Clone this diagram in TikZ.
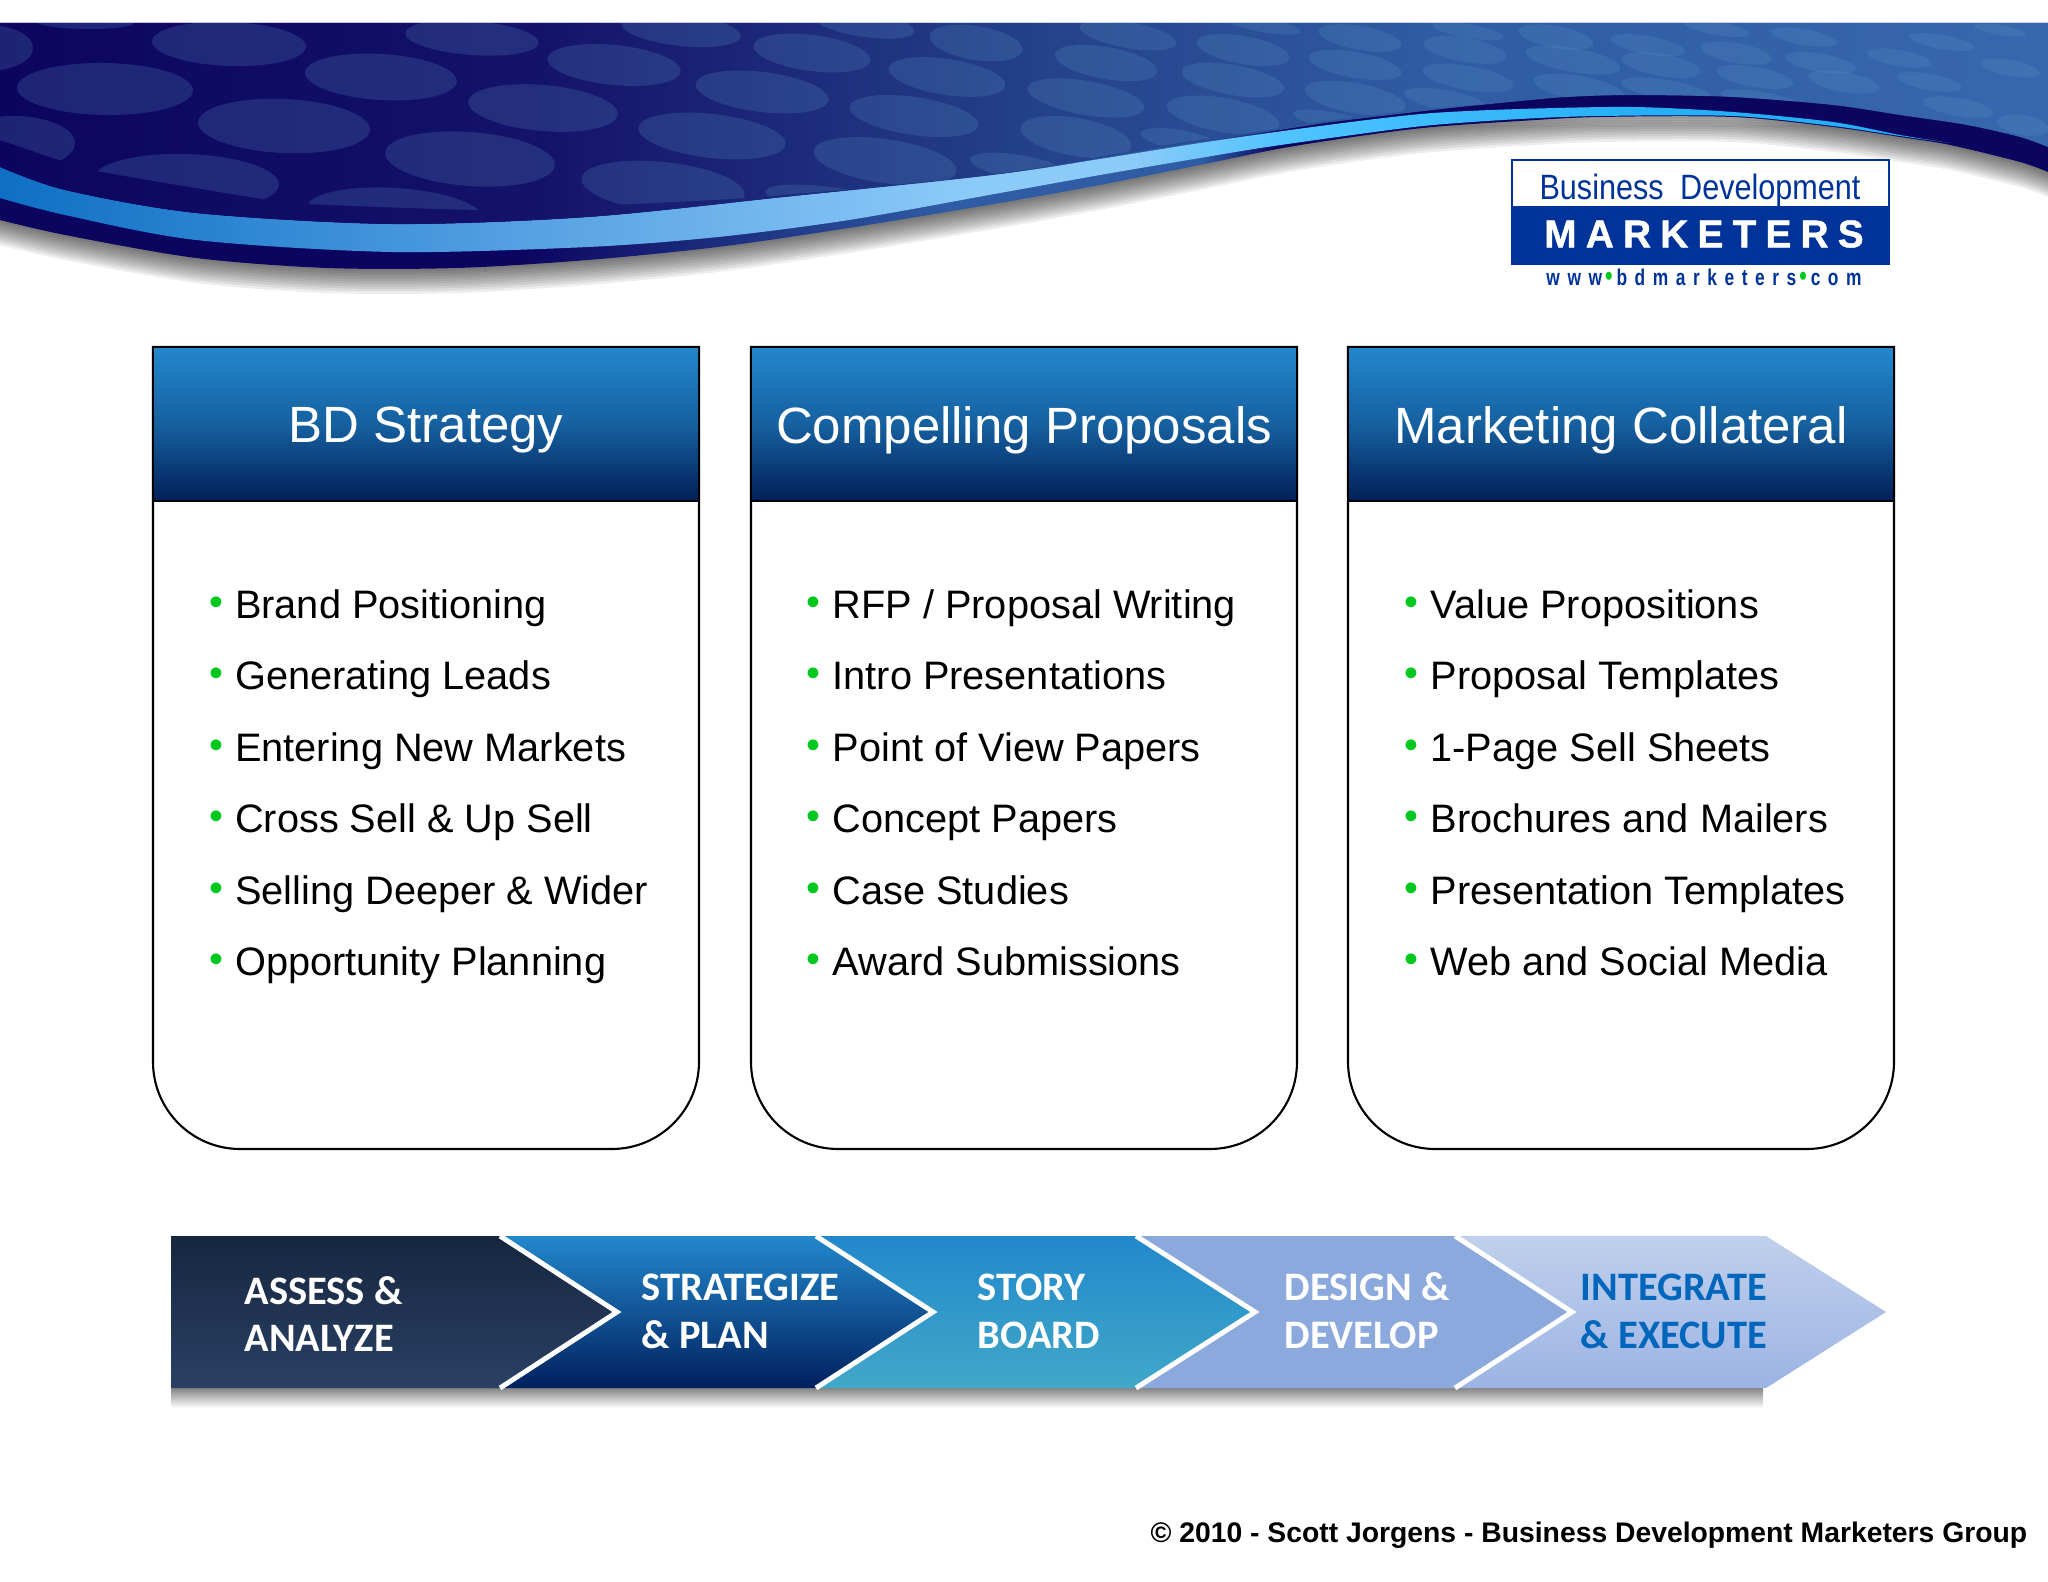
\documentclass[tikz,border=0pt]{standalone}
\usepackage{fontspec}
\setmainfont{Liberation Sans}
\newfontfamily\chevfont{Carlito}
\newfontfamily\logonarrow{Liberation Sans}[FakeStretch=0.87]
\newfontfamily\logowide{Liberation Sans}[LetterSpace=24,BoldFeatures={FakeBold=1.2}]
\newfontfamily\logoweb{Liberation Sans}[FakeStretch=0.76,LetterSpace=33]
\definecolor{navyA}{HTML}{0C0560}
\definecolor{navyB}{HTML}{14126A}
\definecolor{bodyC}{HTML}{24408A}
\definecolor{bodyD}{HTML}{2F5CA4}
\definecolor{bodyE}{HTML}{3767AE}
\definecolor{bandA}{HTML}{0E6FC4}
\definecolor{bandB}{HTML}{5BA5E5}
\definecolor{bandC}{HTML}{8CCBF8}
\definecolor{bandD}{HTML}{4FC3FF}
\definecolor{bandE}{HTML}{25B0F5}
\definecolor{dotblue}{HTML}{5C96C8}
\definecolor{logoblue}{HTML}{003399}
\definecolor{bulletgreen}{HTML}{00C81E}
\definecolor{headtop}{HTML}{2288CC}
\definecolor{headbot}{HTML}{021F58}
\definecolor{integratetext}{HTML}{0066BB}
\pgfdeclarehorizontalshading{topbody}{100bp}{color(0bp)=(navyA); color(25bp)=(navyA); color(38bp)=(navyB); color(50bp)=(bodyC); color(60bp)=(bodyD); color(75bp)=(bodyE); color(100bp)=(bodyE)}
\pgfdeclarehorizontalshading{lowbody}{100bp}{color(0bp)=(navyA); color(25bp)=(navyA); color(37.7bp)=(navyA); color(48.2bp)=(bodyD); color(54.3bp)=(bodyD); color(56.2bp)=(navyA); color(100bp)=(navyA)}
\pgfdeclarehorizontalshading{lightband}{100bp}{color(0bp)=(bandA); color(25bp)=(bandA); color(39.6bp)=(bandB); color(50bp)=(bandC); color(54bp)=(bandC); color(58bp)=(bandD); color(67bp)=(bandE); color(100bp)=(bandE)}
\def\edgebottom{-- plot[smooth] coordinates {(2048,172) (2020,162) (1950,145) (1900,137) (1833,127) (1733,117) (1600,117) (1520,121) (1433,127) (1367,135) (1283,148) (1200,165) (1100,185) (1000,203) (849,228) (718,247) (588,260) (457,268) (327,268) (196,258) (65,235) (0,220)}}
\def\edgeband{-- plot[smooth] coordinates {(0,167) (65,190) (196,213) (392,224) (588,217) (784,197) (1000,174) (1100,159) (1200,143) (1283,131) (1367,120) (1433,113) (1520,109) (1633,107) (1733,112) (1833,122) (1900,135) (1950,143)}}
\def\edgebandlow{-- plot[smooth] coordinates {(1950,143) (1900,136) (1833,126) (1733,116) (1600,116) (1520,119) (1433,125) (1367,133) (1267,147) (1200,158) (1100,175) (1000,193) (849,220) (718,237) (588,247) (392,252) (196,240) (65,215) (0,198)}}
\def\edgebody{-- plot[smooth] coordinates {(2048,147) (2020,137) (1967,125) (1900,115) (1833,105) (1733,97) (1633,95) (1567,97) (1500,103) (1433,110) (1333,122) (1267,132) (1160,148) (1000,174) (784,197) (588,217) (392,224) (196,213) (65,190) (0,167)}}
\def\edgedots{-- plot[smooth] coordinates {(2048,147) (2020,137) (1967,125) (1900,115) (1833,105) (1733,97) (1633,95) (1567,97) (1500,103) (1433,108) (1333,120) (1267,130) (1160,146) (1024,170) (914,183) (745,198) (588,206) (483,210) (307,204) (268,200) (91,170) (59,160) (0,140)}}
\tikzset{
  cardtitle/.style={text=white,font=\fontsize{14.5}{17}\selectfont,anchor=center},
  carditem/.style={anchor=base west,inner sep=0pt,font=\fontsize{11.3}{14}\selectfont},
  stepname/.style={anchor=west,inner sep=0pt,align=left,text=white,font=\chevfont\bfseries\fontsize{11.5}{13.6}\selectfont},
}
\newcommand{\cardbox}[3]{
  \draw[black,line width=0.6pt] (#1,347) -- (#1+546,347) [rounded corners=24.8pt] -- (#1+546,1149) -- (#1,1149) [sharp corners] -- (#1,347) -- cycle;
  \shade[top color=headtop,bottom color=headbot,middle color=headtop!62!headbot] (#1,347) rectangle (#1+546,501);
  \draw[black,line width=0.6pt] (#1,347) rectangle (#1+546,501);
  \node[cardtitle] (#2) at (#1+273,430) {#3};
}
\newcommand{\itembullet}{\raisebox{0.03cm}{\textcolor{bulletgreen}{•}}\hspace{0.12cm}}
\newcommand{\webdot}{\hspace{0.03cm}\textcolor{bulletgreen}{\fontsize{8}{8}\selectfont •}\hspace{0.04cm}}
\begin{document}
\begin{tikzpicture}[x=0.01cm,y=-0.01cm]
\useasboundingbox (0,0) rectangle (2048,1582);
% header
\foreach \i in {1,...,10}
  \fill[black,opacity=0.07,shift={(0,{\i*2.5})}] (0,100) -- (2048,100) \edgebottom -- cycle;
\shade[shading=lowbody] (0,23) -- (2048,23) \edgebottom -- cycle;
\shade[shading=lightband] (0,167) \edgeband \edgebandlow -- cycle;
\shade[shading=topbody] (0,23) -- (2048,23) \edgebody -- cycle;
\begin{scope}
  \clip (0,23) -- (2048,23) \edgedots -- cycle;
  \foreach \ex/\ey/\ea/\eb in {229/44/77/22,472/38/67/17,681/30/60/16,865/25/50/12,976/43/47/17,105/89/88/26,381/77/76/23,614/65/67/20,812/53/59/18,947/77/59/18,762/92/67/20,543/108/75/23,284/126/86/27,914/116/65/19,712/136/74/22,470/159/85/27,885/161/72/22,663/187/82/25,186/182/93/28,395/213/88/25,13/143/62/27,-13/48/46/23,85/22/49/7,830/200/65/13,1019/167/50/12,
  1128/35/49/13,1243/50/47/14,1106/63/52/16,1360/38/42/12,1262/25/39/7,1233/80/52/15,1086/98/59/17,1355/65/47/13,1465/50/42/12,1468/31/36/7,1556/37/38/11,1573/60/48/12,1468/78/46/12,1355/98/51/15,1223/115/57/17,1076/137/56/19,1661/65/40/11,1648/45/38/9,1736/53/36/10,1716/28/33/7,1804/37/33/8,1899/58/33/8,1821/63/36/9,1755/77/39/10,1579/88/46/12,1844/82/36/10,1929/82/33/8,2010/68/30/8,1942/42/33/7,2000/30/26/5,1445/100/42/10,1331/120/39/8,1667/90/46/10,1762/100/42/8,1958/107/36/9,2023/125/26/10,1180/140/40/10}{
    \pgfmathsetmacro\tilt{-min(10,max(0,\ex)/110)}
    \fill[dotblue,opacity=0.22] (\ex,\ey) ellipse [x radius=\ea,y radius=\eb,rotate=\tilt];
  }
\end{scope}
% logo
\draw[logoblue,line width=0.35pt,fill=white] (1512,160) rectangle (1889,264);
\fill[logoblue] (1512,206) rectangle (1889,264);
\node[inner sep=0pt,text=logoblue,font=\logonarrow\fontsize{10}{12}\selectfont] (logotop) at (1700,190) {Business\hspace{0.08cm} Development};
\node[inner sep=0pt,text=white,font=\logowide\bfseries\fontsize{11}{13}\selectfont] (logomid) at (1704,234) {MARKETERS};
\node[inner sep=0pt,text=logoblue,font=\logoweb\bfseries\fontsize{6.5}{8}\selectfont] (logoweb) at (1704,277) {www\webdot bdmarketers\webdot com};
% cards
\cardbox{153}{strategy}{BD Strategy}
\cardbox{751}{proposals}{Compelling Proposals}
\cardbox{1348}{collateral}{Marketing Collateral}
\foreach \txt [count=\r] in {Brand Positioning,Generating Leads,Entering New Markets,Cross Sell \& Up Sell,Selling Deeper \& Wider,Opportunity Planning}
  \node[carditem] (stratitem\r) at (208.5,{618+(\r-1)*71.5}) {\itembullet\txt};
\foreach \txt [count=\r] in {RFP / Proposal Writing,Intro Presentations,Point of View Papers,Concept Papers,Case Studies,Award Submissions}
  \node[carditem] (propitem\r) at (806,{618+(\r-1)*71.5}) {\itembullet\txt};
\foreach \txt [count=\r] in {Value Propositions,Proposal Templates,1-Page Sell Sheets,Brochures and Mailers,Presentation Templates,Web and Social Media}
  \node[carditem] (collitem\r) at (1404,{618+(\r-1)*71.5}) {\itembullet\txt};
% chevrons
\shade[top color=black!48,bottom color=white] (171,1388) rectangle (1763,1408);
\foreach \xa/\xb/\xc/\ca/\cm/\cb in {1400/1766/1886/C0D0EC/BACBEB/9CB4E4,1120/1455/1572/8CA9DE/8CA9DE/8CA9DE,800/1136/1255/2288CC/2C98C8/40A8C8,490/816/933/2288CC/1C6FAE/00205F,171/500/617/16263F/223A5A/2A4164}{
  \definecolor{ctop}{HTML}{\ca}\definecolor{cmid}{HTML}{\cm}\definecolor{cbot}{HTML}{\cb}
  \shade[top color=ctop,middle color=cmid,bottom color=cbot] (\xa,1236) -- (\xb,1236) -- (\xc,1312) -- (\xb,1388) -- (\xa,1388) -- cycle;
}
\foreach \xb/\xc in {500/617,816/933,1136/1255,1455/1572}
  \draw[white,line width=1.4pt] (\xb,1236) -- (\xc,1312) -- (\xb,1388);
\node[stepname] (assess) at (244,1314) {ASSESS \&\\ANALYZE};
\node[stepname] (strategize) at (641,1311) {STRATEGIZE\\\& PLAN};
\node[stepname] (story) at (977,1311) {STORY\\BOARD};
\node[stepname] (design) at (1284,1311) {DESIGN \&\\DEVELOP};
\node[stepname,text=integratetext] (integrate) at (1580,1311) {INTEGRATE\\\& EXECUTE};
% footer
\node[anchor=base east,inner sep=0pt,font=\bfseries\fontsize{8.05}{10}\selectfont] (footer) at (2028,1542) {© 2010 - Scott Jorgens - Business Development Marketers Group};
\end{tikzpicture}
\end{document}
